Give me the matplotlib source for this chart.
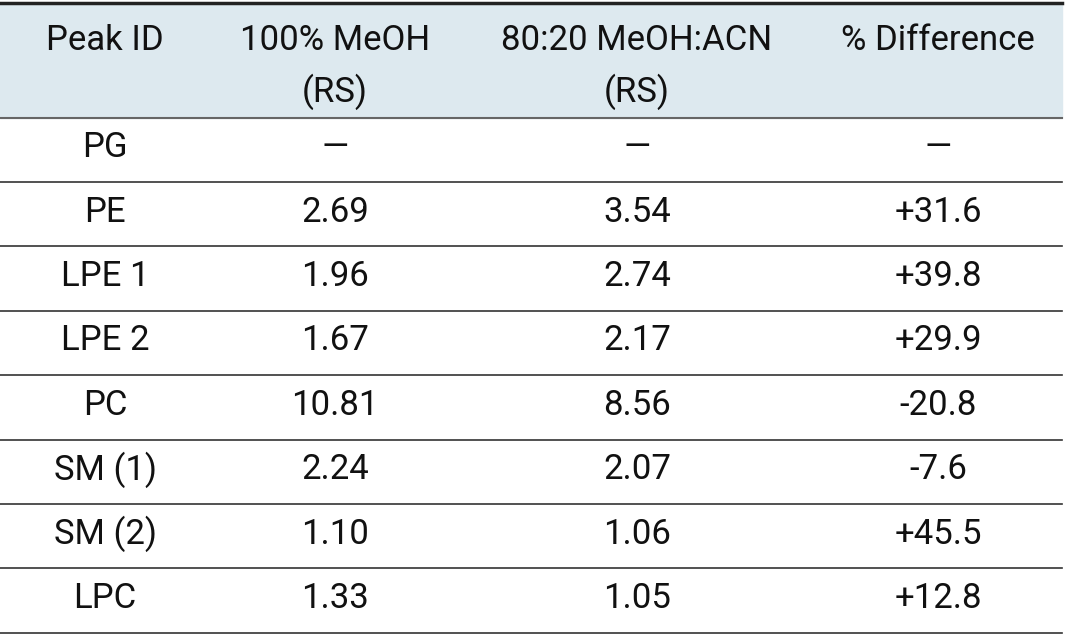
import matplotlib
matplotlib.use("Agg")
import matplotlib.pyplot as plt
from matplotlib.patches import Rectangle

headers = ["Peak ID", "100% MeOH\n(RS)", "80:20 MeOH:ACN\n(RS)", "% Difference"]
peaks = ["PG", "PE", "LPE 1", "LPE 2", "PC", "SM (1)", "SM (2)", "LPC"]
meoh = ["—", "2.69", "1.96", "1.67", "10.81", "2.24", "1.10", "1.33"]
mix = ["—", "3.54", "2.74", "2.17", "8.56", "2.07", "1.06", "1.05"]
diff = ["—", "+31.6", "+39.8", "+29.9", "-20.8", "-7.6", "+45.5", "+12.8"]

W, H = 1066, 637
fig = plt.figure(figsize=(W/100, H/100), dpi=100)
ax = fig.add_axes([0, 0, 1, 1])
ax.set_xlim(0, W); ax.set_ylim(H, 0); ax.axis("off")

font = "Roboto"
fs = 25
col_x = [105, 335, 637, 938]
top, hbot, rh = 3, 117.5, 64.4
ax.add_patch(Rectangle((0, top), 1062, hbot-top, color="#dde9ef", zorder=0))
ax.plot([0, 1062], [top, top], color="#222222", lw=2.5)
ax.plot([0, 1062], [hbot, hbot], color="#666666", lw=1.5)
for i, h in enumerate(headers):
    lines = h.split("\n")
    for j, l in enumerate(lines):
        y = 40 + j*52
        ax.text(col_x[i], y, l, ha="center", va="center", fontsize=fs, family=font, color="#111111")
for r in range(len(peaks)):
    yc = hbot + rh*(r+0.5) - 2
    for i, v in enumerate([peaks[r], meoh[r], mix[r], diff[r]]):
        ax.text(col_x[i], yc, v, ha="center", va="center", fontsize=fs, family=font, color="#111111")
    yl = hbot + rh*(r+1)
    ax.plot([0, 1062], [yl, yl], color="#333333", lw=1.2)
fig.savefig("out.png", dpi=100)
